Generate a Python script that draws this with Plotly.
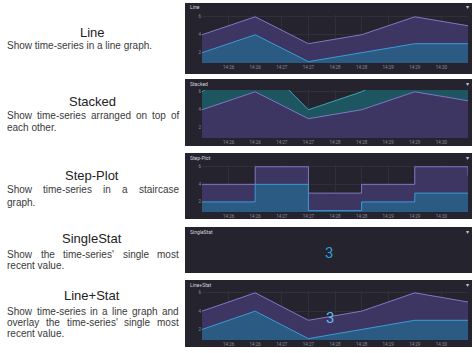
import plotly.graph_objects as go

W, H = 474, 353

# ---- data ----
t = [0, 1, 2, 3, 4, 5]
series_a = [4, 6, 3, 4, 6, 5]      # purple series
series_b = [2, 4, 1, 2, 3, 3]      # blue series
stack_total = [a + b for a, b in zip(series_a, series_b)]
x_tick_vals = [0.5, 1, 1.5, 2, 2.5, 3, 3.5, 4, 4.5, 5]
x_tick_text = ["14:26", "14:26", "14:27", "14:27", "14:28",
               "14:28", "14:29", "14:29", "14:30", "14:30"]
y_tick_vals = [2, 4, 6]
single_stat = series_b[-1]

panel_titles = ["Line", "Stacked", "Step-Plot", "SingleStat", "Line+Stat"]
headings = ["Line", "Stacked", "Step-Plot", "SingleStat", "Line+Stat"]
descriptions = [
    ["Show time-series in a line graph."],
    ["Show time-series arranged on top of", "each other."],
    ["Show time-series in a staircase", "graph."],
    ["Show the time-series' single most", "recent value."],
    ["Show time-series in a line graph and",
     "overlay the time-series' single most", "recent value."],
]

# ---- layout geometry (pixels) ----
PX0, PX1 = 185, 472          # panel x extent
AX0, AX1 = 202, 468          # plot x extent
panels = [
    dict(top=3, bottom=74, pt=15, pb=63),
    dict(top=79, bottom=146, pt=90, pb=138),
    dict(top=153, bottom=219, pt=165, pb=212),
    dict(top=227, bottom=273, pt=None, pb=None),
    dict(top=280, bottom=347, pt=291, pb=340),
]
head_y = [32, 101, 175, 238, 295]
desc_y = [[46], [115.5, 127], [190, 202], [254, 265.5], [311, 322, 333.5]]

BG = "#24232e"
GRID = "#30303c"
PURPLE_FILL = "#3d3562"
PURPLE_LINE = "#8079c4"
BLUE_FILL = "#2b5a83"
BLUE_LINE = "#3c9bd8"
TEAL_FILL = "#1d5560"
TEAL_LINE = "#3aa5b8"
TICK = "#8c8c98"


def px(x):
    return x / W


def py(y):
    return 1 - y / H


fig = go.Figure()
shapes = []
annotations = []

axis_map = {0: 1, 1: 2, 2: 3, 4: 4}

for i, p in enumerate(panels):
    shapes.append(dict(type="rect", xref="paper", yref="paper",
                       x0=px(PX0), x1=px(PX1), y0=py(p["bottom"]), y1=py(p["top"]),
                       fillcolor=BG, line=dict(width=0), layer="below"))
    annotations.append(dict(x=px(PX0 + 4), y=py(p["top"] + 4.5), xref="paper", yref="paper",
                            text=panel_titles[i], showarrow=False, xanchor="left",
                            yanchor="middle", font=dict(size=5, color="#d4d4dc",
                                                        family="Roboto"), borderpad=0))
    annotations.append(dict(x=px(PX1 - 5), y=py(p["top"] + 4.5), xref="paper", yref="paper",
                            text="▾", showarrow=False, xanchor="center",
                            yanchor="middle", font=dict(size=6, color="#c8c8d0"), borderpad=0))

layout_axes = {}
for i, n in axis_map.items():
    p = panels[i]
    sfx = "" if n == 1 else str(n)
    layout_axes["xaxis" + sfx] = dict(
        domain=[px(AX0), px(AX1)], anchor="y" + sfx, range=[0, 5],
        tickvals=x_tick_vals, ticktext=x_tick_text, showgrid=True, gridcolor=GRID,
        gridwidth=1, zeroline=False, showline=False, ticks="",
        tickfont=dict(size=4.5, color=TICK, family="Roboto"), fixedrange=True)
    layout_axes["yaxis" + sfx] = dict(
        domain=[py(p["pb"]), py(p["pt"])], anchor="x" + sfx, range=[0.85, 6.2],
        tickvals=y_tick_vals, showgrid=True, gridcolor=GRID, gridwidth=1,
        zeroline=False, showline=False, ticks="",
        tickfont=dict(size=4.5, color=TICK, family="Roboto"), fixedrange=True)


def add(x, y, fill, fillcolor, color, n, shape="linear"):
    sfx = "" if n == 1 else str(n)
    fig.add_trace(go.Scatter(x=x, y=y, mode="lines", fill=fill, fillcolor=fillcolor,
                             line=dict(color=color, width=1, shape=shape),
                             xaxis="x" + sfx, yaxis="y" + sfx, showlegend=False,
                             hoverinfo="skip"))


# Line
add(t, series_a, "tozeroy", PURPLE_FILL, PURPLE_LINE, 1)
add(t, series_b, "tozeroy", BLUE_FILL, BLUE_LINE, 1)
# Stacked
add(t, series_a, "tozeroy", PURPLE_FILL, PURPLE_LINE, 2)
add(t, stack_total, "tonexty", TEAL_FILL, TEAL_LINE, 2)
# Step-Plot
add(t, series_a, "tozeroy", PURPLE_FILL, PURPLE_LINE, 3, shape="hv")
add(t, series_b, "tozeroy", BLUE_FILL, BLUE_LINE, 3, shape="hv")
# Line+Stat
add(t, series_a, "tozeroy", PURPLE_FILL, PURPLE_LINE, 4)
add(t, series_b, "tozeroy", BLUE_FILL, BLUE_LINE, 4)

# single stat numbers
annotations.append(dict(x=px(329), y=py(253), xref="paper", yref="paper",
                        text=str(single_stat), showarrow=False, xanchor="center",
                        yanchor="middle", font=dict(size=15, color="#2f9fd8", family="Roboto")))
annotations.append(dict(x=px(330), y=py(318), xref="paper", yref="paper",
                        text=str(single_stat), showarrow=False, xanchor="center",
                        yanchor="middle", font=dict(size=15, color="#5cbdf2", family="Roboto")))

# ---- left-hand text ----
CW = {'a': 556, 'b': 556, 'c': 500, 'd': 556, 'e': 556, 'f': 278, 'g': 556, 'h': 556,
      'i': 222, 'j': 222, 'k': 500, 'l': 222, 'm': 833, 'n': 556, 'o': 556, 'p': 556,
      'q': 556, 'r': 333, 's': 500, 't': 278, 'u': 556, 'v': 500, 'w': 722, 'x': 500,
      'y': 500, 'z': 500, 'S': 667, 'L': 667, ' ': 278, '-': 333, "'": 191, '.': 278,
      '+': 584}
DESC_SIZE = 10
LEFT, RIGHT = 6, 178


def wwidth(s, size):
    return sum(CW.get(c, 556) for c in s) * size / 1000.0


desc_font = dict(size=DESC_SIZE, color="#3a3a3a", family="Liberation Sans")
for k in range(5):
    annotations.append(dict(x=px(92), y=py(head_y[k]), xref="paper", yref="paper",
                            text=headings[k], showarrow=False, xanchor="center",
                            yanchor="middle", borderpad=0,
                            font=dict(size=13, color="#222222", family="Liberation Sans")))
    lines = descriptions[k]
    for j, line in enumerate(lines):
        yy = py(desc_y[k][j])
        last = (j == len(lines) - 1)
        if last:
            annotations.append(dict(x=px(LEFT), y=yy, xref="paper", yref="paper",
                                    text=line, showarrow=False, xanchor="left",
                                    yanchor="middle", borderpad=0, font=desc_font))
        else:
            words = line.split(" ")
            widths = [wwidth(w, DESC_SIZE) for w in words]
            gap = (RIGHT - LEFT - sum(widths)) / (len(words) - 1)
            xx = LEFT
            for w, wd in zip(words, widths):
                annotations.append(dict(x=px(xx), y=yy, xref="paper", yref="paper",
                                        text=w, showarrow=False, xanchor="left",
                                        yanchor="middle", borderpad=0, font=desc_font))
                xx += wd + gap

fig.update_layout(
    width=W, height=H, margin=dict(l=0, r=0, t=0, b=0),
    paper_bgcolor="white", plot_bgcolor="rgba(0,0,0,0)",
    shapes=shapes, annotations=annotations, showlegend=False,
    **layout_axes)

fig.write_html("out.html", config={"displayModeBar": False})
